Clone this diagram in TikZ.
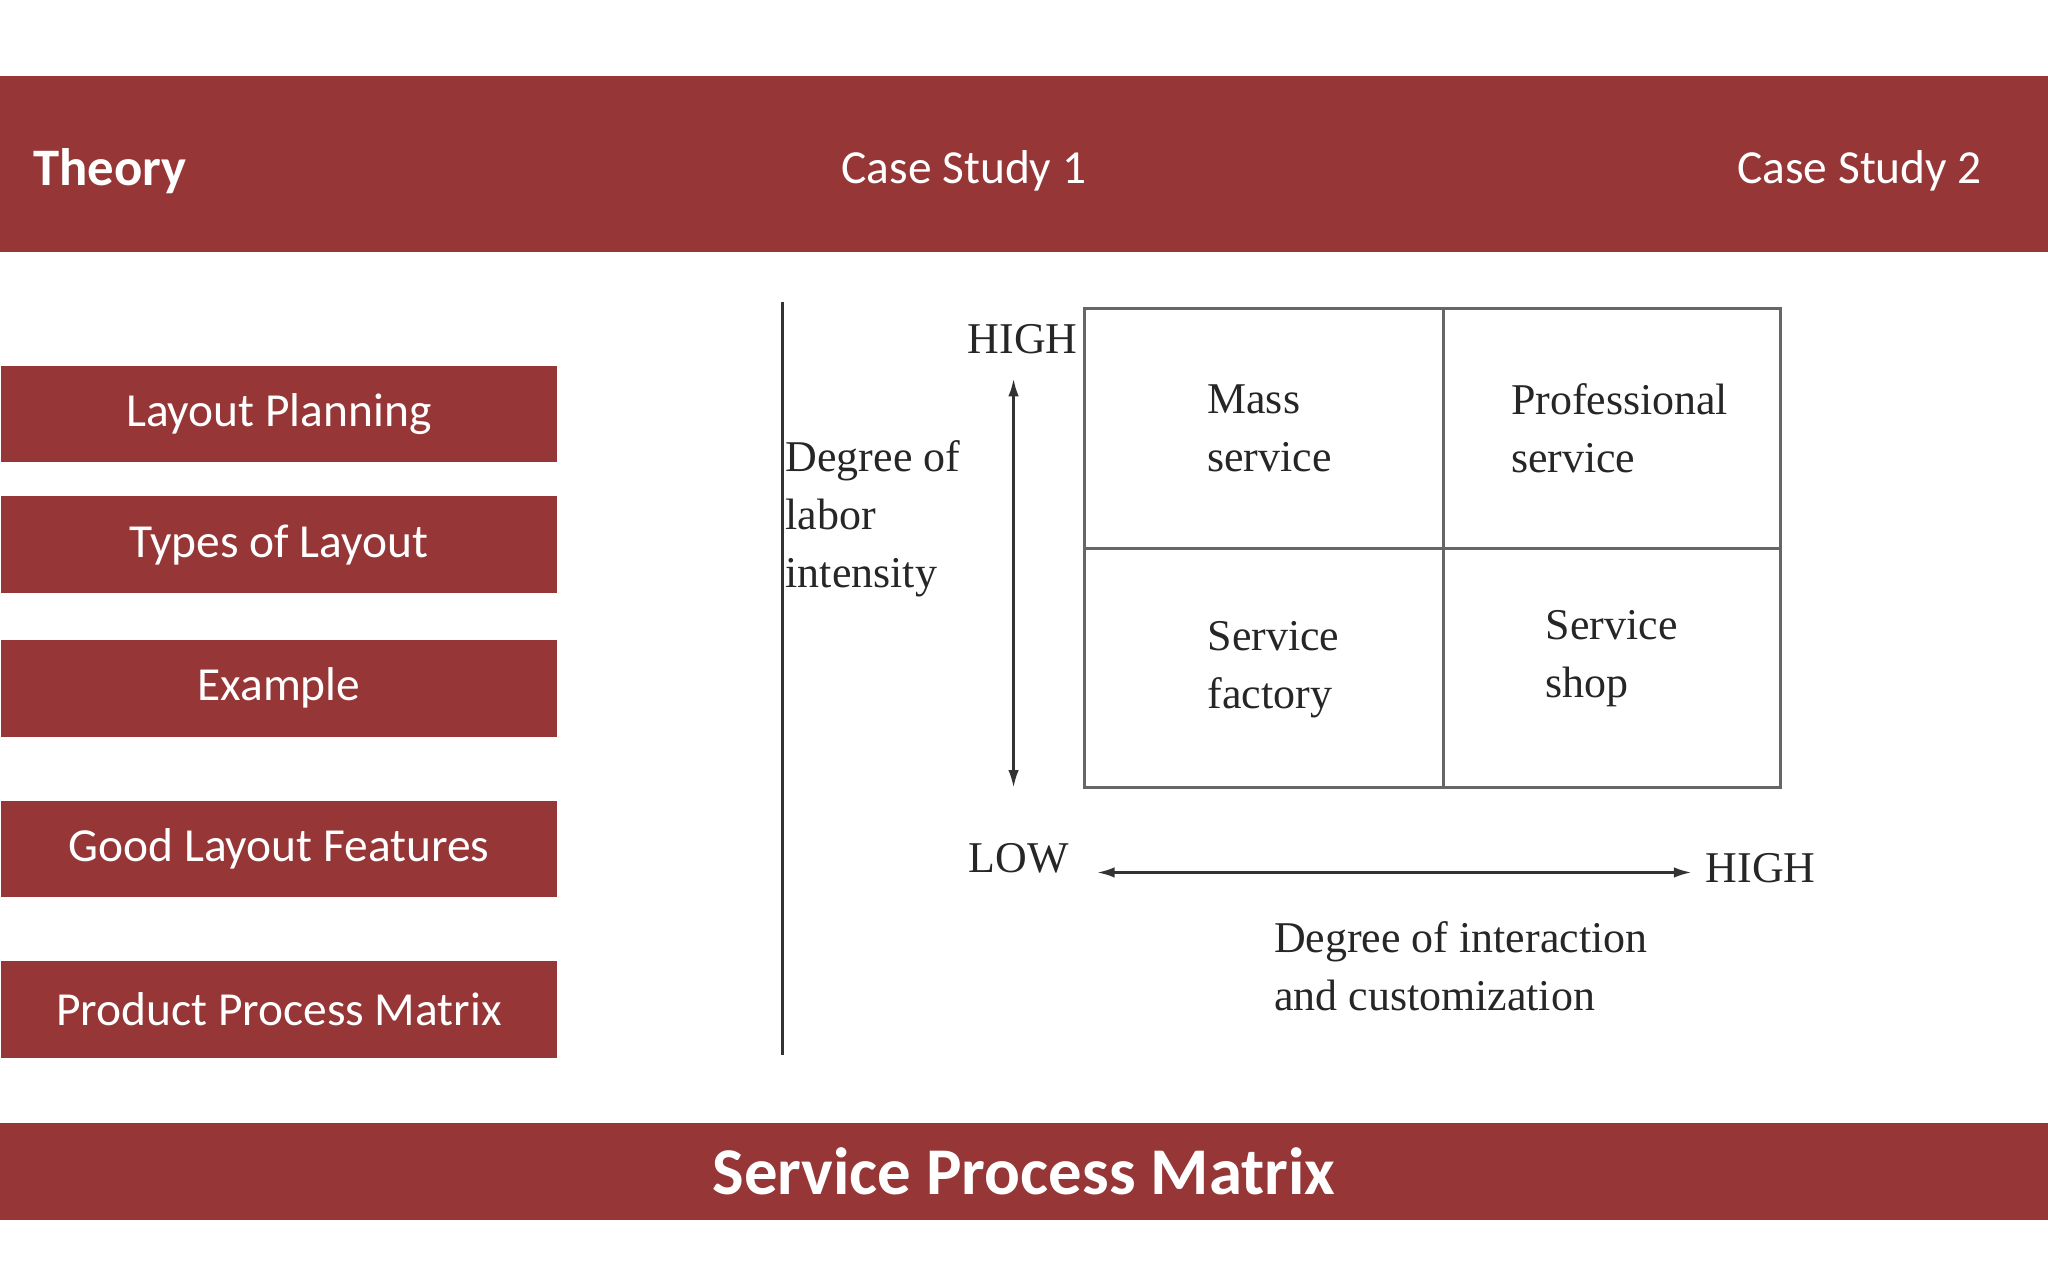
\documentclass[tikz,border=0pt]{standalone}
\usepackage{fontspec}
\setmainfont{Liberation Serif}
\newfontfamily\calfnt{Carlito}
\usetikzlibrary{arrows.meta}
\definecolor{bar}{HTML}{963636}
\definecolor{gl}{HTML}{666666}
\tikzset{
 sbox/.style={fill=bar,draw=none,minimum width=426*0.013061cm,minimum height=74*0.013061cm,text=white,font=\calfnt\fontsize{13.5}{15}\selectfont,inner sep=0pt},
 st/.style={font=\fontsize{12.5}{14}\selectfont,text=black!85,align=left,inner sep=0pt},
 grid/.style={draw=gl,line width=0.9pt},
 arr/.style={draw=black!80,line width=0.7pt,{Latex[length=5pt,width=3pt]}-{Latex[length=5pt,width=3pt]}}
}
\begin{document}
\begin{tikzpicture}[x=0.013061cm,y=-0.013061cm]
\useasboundingbox (0,0) rectangle (1568,980);
\fill[white] (0,0) rectangle (1568,980);
\fill[bar] (0,58) rectangle (1568,193);
\node[anchor=west,text=white,font=\calfnt\bfseries\fontsize{15}{17}\selectfont] (th) at (16,131) {Theory};
\node[text=white,font=\calfnt\fontsize{13.5}{15}\selectfont] (c1) at (738,131) {Case Study 1};
\node[anchor=east,text=white,font=\calfnt\fontsize{13.5}{15}\selectfont] (c2) at (1527,131) {Case Study 2};
\node[sbox,anchor=west] (b1) at (0,317) {Layout Planning};
\node[sbox,anchor=west] (b2) at (0,417) {Types of Layout};
\node[sbox,anchor=west] (b3) at (0,527) {Example};
\node[sbox,anchor=west] (b4) at (0,650) {Good Layout Features};
\node[sbox,anchor=west] (b5) at (0,773) {Product Process Matrix};
\fill[bar] (0,860) rectangle (1568,934);
\node[text=white,font=\calfnt\bfseries\fontsize{19}{21}\selectfont] (sp) at (784,897) {Service Process Matrix};
\draw[black!80,line width=0.7pt] (599,231) -- (599,808);
\draw[grid] (830,236) rectangle (1363,603);
\draw[grid] (1105,236) -- (1105,603);
\draw[grid] (830,420) -- (1363,420);
\node[st] (h1) at (783,260) {HIGH};
\coordinate (at) at (776,290);
\coordinate (ab) at (776,603);
\draw[arr] (at) -- (ab);
\node[st,anchor=north west,font=\fontsize{12.5}{16.5}\selectfont] (dl) at (601,337) {Degree of\\labor\\intensity};
\node[st,font=\fontsize{12.5}{16.5}\selectfont] (m) at (972,328) {Mass\\service};
\node[st,font=\fontsize{12.5}{16.5}\selectfont] (p) at (1240,328) {Professional\\service};
\node[st,font=\fontsize{12.5}{16.5}\selectfont] (sf) at (975,513) {Service\\factory};
\node[st,font=\fontsize{12.5}{16.5}\selectfont] (ss) at (1234,504) {Service\\shop};
\node[st] (lo) at (780,657) {LOW};
\node[st] (h2) at (1348,665) {HIGH};
\coordinate (al) at (840,668);
\coordinate (ar) at (1295,668);
\draw[arr] (al) -- (ar);
\node[st,anchor=north west,font=\fontsize{12.5}{16.5}\selectfont] (di) at (975,705) {Degree of interaction\\and customization};
\end{tikzpicture}
\end{document}
